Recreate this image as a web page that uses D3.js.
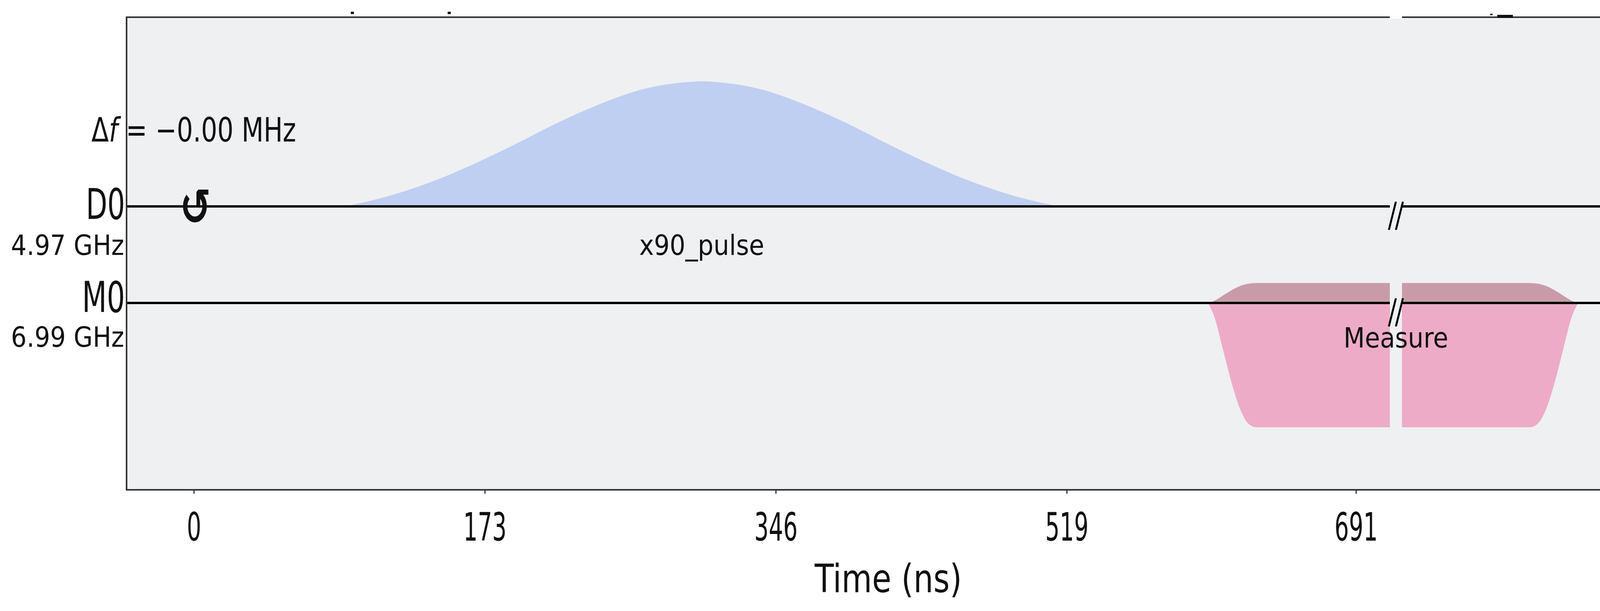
<!DOCTYPE html>
<html><head><meta charset="utf-8">
<script src="https://cdn.jsdelivr.net/npm/d3@7"></script>
<style>body{margin:0;background:#fff;overflow:hidden}svg{display:block}text{font-family:"DejaVu Sans";fill:#111}</style>
</head><body>
<script>
const W = 4339, H = 1563
const channels = ["D0", "M0"]
const chanFreq = ["4.97 GHz", "6.99 GHz"]
const tickVals = [0, 173, 346, 519, 691, 5620]
// x90 pulse envelope
const x90T = [90, 115, 140, 165, 190, 215, 240, 265, 290, 302, 314, 339, 364, 389, 414, 439, 464, 489, 514]
const x90Amp = [0, 0.08, 0.19, 0.33, 0.49, 0.66, 0.81, 0.93, 0.99, 1, 0.99, 0.93, 0.81, 0.66, 0.49, 0.33, 0.19, 0.08, 0]
// measure pulse envelope
const measT = [603, 607, 612, 617, 622, 627, 632, 5547, 5552, 5557, 5562, 5567, 5572, 5576]
const measEnv = [0, 0.12, 0.38, 0.64, 0.85, 0.97, 1, 1, 0.97, 0.85, 0.64, 0.38, 0.12, 0]
const measRe = -1.0, measIm = 0.16

const svg = d3.select("body").append("svg").attr("width", W).attr("height", H)
const pL = 324, pR = 4228, pT = 44, pB = 1253
const x = d3.scaleLinear().domain([-40, 713, 5468, 5620]).range([pL, 3566, 3578, pR])
const chanY = {D0: 528, M0: 775}
const yD0 = d3.scaleLinear().domain([0, 1]).range([528, 208])
const yM0 = d3.scaleLinear().domain([-1, 0, 1]).range([1093, 775, 457])

svg.append("rect").attr("x", pL).attr("y", pT).attr("width", pR-pL).attr("height", pB-pT).attr("fill", "#eff0f2")

svg.append("path").datum(x90T.map((t,i)=>[t, x90Amp[i]]))
  .attr("fill", "#bfcff1")
  .attr("d", d3.area().x(d=>x(d[0])).y0(yD0(0)).y1(d=>yD0(d[1])).curve(d3.curveMonotoneX))

const mData = measT.map((t,i)=>[t, measEnv[i]])
svg.append("path").datum(mData).attr("fill", "#c99ba8")
  .attr("d", d3.area().x(d=>x(d[0])).y0(yM0(0)).y1(d=>yM0(measIm*d[1])).curve(d3.curveMonotoneX))
svg.append("path").datum(mData).attr("fill", "#edabc8")
  .attr("d", d3.area().x(d=>x(d[0])).y0(yM0(0)).y1(d=>yM0(measRe*d[1])).curve(d3.curveMonotoneX))

// channel baselines
channels.forEach(c => {
  svg.append("line").attr("x1", pL).attr("x2", pR).attr("y1", chanY[c]).attr("y2", chanY[c])
    .attr("stroke", "#000").attr("stroke-width", 6)
})

// axis break
const bx0 = 3558, bx1 = 3589
svg.append("rect").attr("x", bx0).attr("y", pT+3).attr("width", bx1-bx0).attr("height", pB-pT-6).attr("fill", "#eff0f2")

// spines
svg.append("rect").attr("x", pL).attr("y", pT).attr("width", pR-pL).attr("height", pB-pT)
  .attr("fill", "none").attr("stroke", "#333").attr("stroke-width", 4)
svg.append("rect").attr("x", bx0).attr("y", pT-4).attr("width", bx1-bx0).attr("height", 8).attr("fill", "#fff")
// stray marks along the top
;[[898, 30, 8, 6], [1146, 30, 8, 6], [3815, 35, 6, 4], [3833, 38, 40, 8]].forEach(r => {
  svg.append("rect").attr("x", r[0]).attr("y", r[1]).attr("width", r[2]).attr("height", r[3]).attr("fill", "#111")
})

// break marks
channels.forEach(c => {
  const cy = chanY[c] + 24
  ;[-9, 9].forEach(dx => {
    svg.append("line").attr("x1", (bx0+bx1)/2+dx-9).attr("x2", (bx0+bx1)/2+dx+9)
      .attr("y1", cy+36).attr("y2", cy-36).attr("stroke", "#000").attr("stroke-width", 5)
  })
})

function txt(s, px, py, size, anchor, width) {
  const t = svg.append("text").attr("x", px).attr("y", py).attr("font-size", size).attr("text-anchor", anchor).text(s)
  if (width) t.attr("textLength", width).attr("lengthAdjust", "spacingAndGlyphs")
  return t
}

// channel labels
txt("D0", 320, 560, 108, "end", 100)
txt("4.97 GHz", 318, 652, 72, "end", 290)
txt("M0", 320, 798, 108, "end", 110)
txt("6.99 GHz", 318, 887, 72, "end", 290)

const df = txt("", 234, 362, 86, "start", 524)
df.append("tspan").text("\u0394")
df.append("tspan").attr("font-style", "italic").text("f")
df.append("tspan").text(" = \u22120.00 MHz")
txt("\u21BA", x(0)+4, 575, 130, "middle", 80).attr("font-weight", "bold")
txt("x90_pulse", x(302), 652, 72, "middle", 320)
txt("Measure", (bx0+bx1)/2, 889, 72, "middle", 268)

// x axis
const ax = svg.append("g").attr("transform", `translate(0,${pB})`)
  .call(d3.axisBottom(x).tickValues(tickVals).tickSize(10).tickFormat(d3.format("d")))
ax.select(".domain").remove()
ax.selectAll("line").attr("stroke", "#333").attr("stroke-width", 3)
ax.selectAll("text").attr("font-size", 100).attr("dy", 0).attr("y", 130).attr("fill", "#111")
  .attr("font-family", "DejaVu Sans").each(function(d){
    d3.select(this).attr("textLength", String(d).length*37).attr("lengthAdjust", "spacingAndGlyphs")
  })
txt("Time (ns)", 2274, 1515, 100, "middle", 377)
</script>
</body></html>
